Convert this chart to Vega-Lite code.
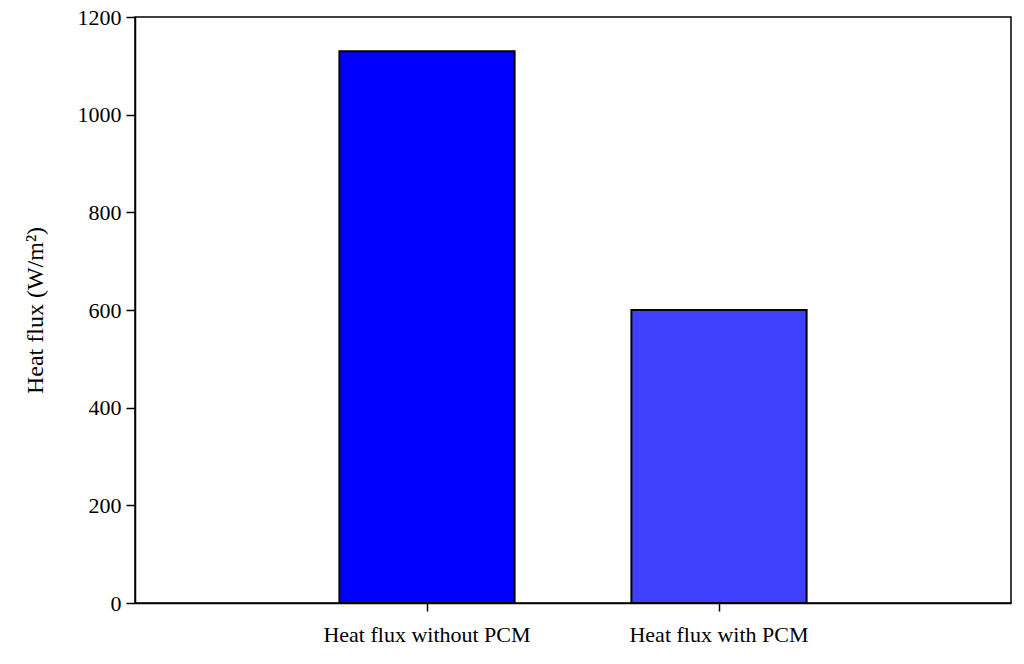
{
  "$schema": "https://vega.github.io/schema/vega-lite/v6.json",
  "autosize": "none",
  "width": 876,
  "height": 586,
  "padding": {"left": 135, "top": 17, "right": 13, "bottom": 61},
  "background": "white",
  "config": {
    "view": {"stroke": "black", "strokeWidth": 1.5},
    "font": "Liberation Serif"
  },
  "data": {
    "values": [
      {"case": "Heat flux without PCM", "flux": 1130},
      {"case": "Heat flux with PCM", "flux": 600}
    ]
  },
  "mark": {"type": "bar", "stroke": "black", "strokeWidth": 2},
  "encoding": {
    "x": {
      "field": "case",
      "type": "nominal",
      "sort": null,
      "scale": {"paddingInner": 0.4, "paddingOuter": 0.7},
      "axis": {
        "title": null,
        "labelAngle": 0,
        "labelLimit": 400,
        "labelFont": "Liberation Serif",
        "labelFontSize": 22,
        "labelColor": "black",
        "labelPadding": 13,
        "tickColor": "black",
        "tickSize": 8,
        "tickWidth": 1.5,
        "domainColor": "black",
        "domainWidth": 1.5
      }
    },
    "y": {
      "field": "flux",
      "type": "quantitative",
      "scale": {"domain": [0, 1200], "nice": false},
      "axis": {
        "title": "Heat flux (W/m²)",
        "titleFont": "Liberation Serif",
        "titleFontSize": 24,
        "titleFontWeight": "normal",
        "titleColor": "black",
        "titlePadding": 30,
        "format": "d",
        "values": [0, 200, 400, 600, 800, 1000, 1200],
        "grid": false,
        "labelFont": "Liberation Serif",
        "labelFontSize": 22,
        "labelColor": "black",
        "labelPadding": 5,
        "tickColor": "black",
        "tickSize": 9,
        "tickWidth": 1.5,
        "domainColor": "black",
        "domainWidth": 1.5
      }
    },
    "color": {
      "field": "case",
      "type": "nominal",
      "scale": {
        "domain": ["Heat flux without PCM", "Heat flux with PCM"],
        "range": ["#0000FF", "#4040FF"]
      },
      "legend": null
    }
  }
}
